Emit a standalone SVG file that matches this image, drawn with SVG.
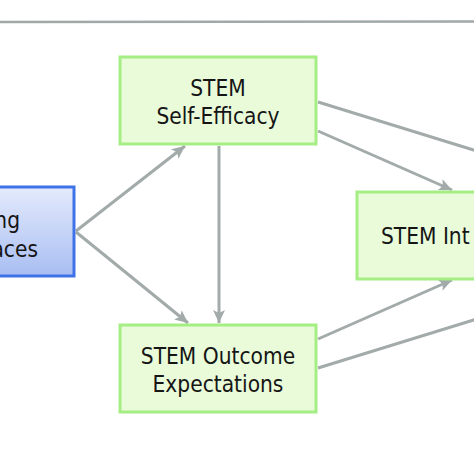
<svg xmlns="http://www.w3.org/2000/svg" width="474" height="474" viewBox="0 0 474 474">
<style>
.green{fill:#e9fbd9;stroke:#a4ee84;stroke-width:3}
.lbl{font-family:'DejaVu Sans Condensed','DejaVu Sans',sans-serif;font-stretch:condensed;font-size:22.5px;fill:#151515}
.conn{stroke:#a2aaaa;stroke-width:3;fill:none}
</style>
<defs>
<linearGradient id="blueGrad" x1="0" y1="0" x2="0" y2="1">
<stop offset="0" stop-color="#e4eafc"/>
<stop offset="1" stop-color="#a8bef2"/>
</linearGradient>
<marker id="arr" markerUnits="userSpaceOnUse" markerWidth="14" markerHeight="12" viewBox="0 0 14 12" refX="13" refY="6" orient="auto">
<path d="M0,0 L13,6 L0,12 L3,6 z" fill="#a2aaaa"/>
</marker>
</defs>
<rect width="474" height="474" fill="#ffffff"/>
<line x1="0" y1="22" x2="474" y2="21.5" stroke="#a0a8a8" stroke-width="2.5"/>
<g id="connectors">
<line class="conn" x1="76" y1="231" x2="185" y2="146" marker-end="url(#arr)"/>
<line class="conn" x1="76" y1="232" x2="188" y2="323" marker-end="url(#arr)"/>
<line class="conn" x1="219" y1="146" x2="219" y2="323" marker-end="url(#arr)"/>
<line class="conn" x1="318" y1="131" x2="452" y2="190" marker-end="url(#arr)"/>
<line class="conn" x1="318" y1="102" x2="480" y2="152"/>
<line class="conn" x1="318" y1="339" x2="452" y2="280" marker-end="url(#arr)"/>
<line class="conn" x1="318" y1="368" x2="480" y2="318"/>
</g>
<g id="learning">
<rect x="-10" y="187" width="84" height="89" fill="url(#blueGrad)" stroke="#3e72e6" stroke-width="3"/>
<text class="lbl" x="20" y="228" text-anchor="end">ng</text>
<text class="lbl" x="38" y="257" text-anchor="end">aces</text>
</g>
<g id="self-efficacy">
<rect class="green" x="120" y="57" width="196" height="87"/>
<text class="lbl" x="218" y="96" text-anchor="middle">STEM</text>
<text class="lbl" x="218" y="124" text-anchor="middle">Self-Efficacy</text>
</g>
<g id="outcome">
<rect class="green" x="120" y="325" width="196" height="87"/>
<text class="lbl" x="218" y="364" text-anchor="middle">STEM Outcome</text>
<text class="lbl" x="218" y="392" text-anchor="middle">Expectations</text>
</g>
<g id="interests">
<rect class="green" x="357" y="192" width="130" height="87"/>
<text class="lbl" x="381" y="244">STEM Int</text>
</g>
</svg>
